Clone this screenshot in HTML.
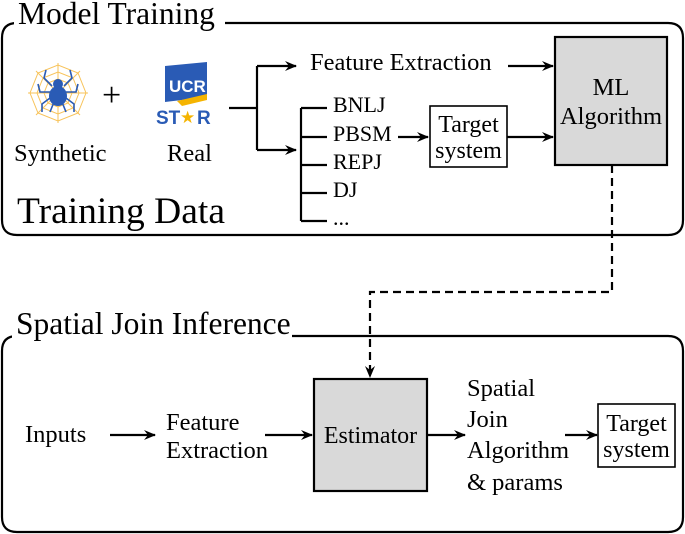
<!DOCTYPE html>
<html><head><meta charset="utf-8"><style>
html,body{margin:0;padding:0;background:#fff;}
svg{display:block;}
.s{font-family:"Liberation Serif",serif;fill:#000;}
.b{font-family:"Liberation Sans",sans-serif;font-weight:bold;}
</style></head><body>
<svg width="685" height="534" viewBox="0 0 685 534" xmlns="http://www.w3.org/2000/svg">
<defs>
<marker id="a" viewBox="0 0 12 10" refX="11" refY="5" markerWidth="12" markerHeight="10" markerUnits="userSpaceOnUse" orient="auto">
<path d="M0,0 L12,5 L0,10 L4,5 Z" fill="#000"/>
</marker>
</defs>
<path d="M225,23 H668 Q683,23 683,38 V220 Q683,235 668,235 H17 Q2,235 2,220 V38 Q2,23 17,23" fill="none" stroke="#000" stroke-width="2.2"/>
<rect x="14" y="4" width="208" height="28" fill="#fff"/>
<text class="s" x="18" y="24" font-size="31.5">Model Training</text>
<text class="s" x="17" y="223" font-size="37.5">Training Data</text>
<text class="s" x="14" y="161" font-size="24.5">Synthetic</text>
<text class="s" x="167" y="161" font-size="24.5">Real</text>
<text class="s" x="102" y="106" font-size="34">+</text>
<g stroke="#f7c35a" stroke-width="1" fill="none">
<polygon points="86,93 78,113 58,121 38,113 30,93 38,73 58,65 78,73"/>
<polygon points="79,93 73,108 58,114 43,108 37,93 43,78 58,72 73,78"/>
<polygon points="72,93 68,103 58,107 48,103 44,93 48,83 58,79 68,83"/>
<path d="M58,93 L88,93 M58,93 L28,93 M58,93 L58,63 M58,93 L58,123 M58,93 L80,71 M58,93 L36,71 M58,93 L80,115 M58,93 L36,115"/>
</g>
<g stroke="#2a5bb5" stroke-width="1.6" fill="none">
<path d="M52,86 L44,78 L46,70 M64,86 L72,78 L70,70 M50,92 L40,92 L38,84 M66,92 L76,92 L78,84 M50,98 L42,104 L42,112 M66,98 L74,104 L74,112 M54,102 L50,112 M62,102 L66,112"/>
</g>
<ellipse cx="58" cy="96" rx="9" ry="10" fill="#2a5bb5"/>
<circle cx="58" cy="84" r="5" fill="#2a5bb5"/>
<polygon points="165,66 207,62 207,97 165,102" fill="#2a5bb5"/>
<polygon points="177,101 207,94 207,100 182,106" fill="#f5b400"/>
<text class="b" x="169" y="92" font-size="17" fill="#fff">UCR</text>
<text class="b" x="156" y="124" font-size="19" fill="#2a5bb5">ST</text>
<text x="180" y="123" font-family="DejaVu Sans" font-size="17" fill="#f5b400">★</text>
<text class="b" x="197" y="124" font-size="19" fill="#2a5bb5">R</text>
<g stroke="#000" stroke-width="2.2" fill="none">
<path d="M229,108 H257 M257,66 V150"/>
<path d="M257,66 H296" marker-end="url(#a)"/>
<path d="M257,150 H296" marker-end="url(#a)"/>
<path d="M301,108 V221 M301,108 H327 M301,137 H327 M301,165 H327 M301,193 H327 M301,221 H327"/>
<path d="M508,66 H553" marker-end="url(#a)"/>
<path d="M398,137 H428" marker-end="url(#a)"/>
<path d="M507,137 H553" marker-end="url(#a)"/>
</g>
<text class="s" x="310" y="70" font-size="24.5">Feature Extraction</text>
<g class="s" font-size="22">
<text x="333" y="112">BNLJ</text>
<text x="333" y="141">PBSM</text>
<text x="333" y="169">REPJ</text>
<text x="333" y="197">DJ</text>
<text x="333" y="225">...</text>
</g>
<rect x="430" y="106" width="77" height="61" fill="#fff" stroke="#000" stroke-width="1.6"/>
<text class="s" x="468.5" y="132" font-size="24" text-anchor="middle">Target</text>
<text class="s" x="468.5" y="158" font-size="24" text-anchor="middle">system</text>
<rect x="555" y="37" width="112" height="128" fill="#d9d9d9" stroke="#000" stroke-width="2.2"/>
<text class="s" x="611" y="95" font-size="24.5" text-anchor="middle">ML</text>
<text class="s" x="611" y="124" font-size="24.5" text-anchor="middle">Algorithm</text>
<path d="M612,165 V292 H370 V377" fill="none" stroke="#000" stroke-width="2.2" stroke-dasharray="8,5" marker-end="url(#a)"/>
<path d="M292,336 H668 Q683,336 683,351 V517 Q683,532 668,532 H17 Q2,532 2,517 V351 Q2,336 17,336" fill="none" stroke="#000" stroke-width="2.2"/>
<rect x="12" y="308" width="278" height="32" fill="#fff"/>
<text class="s" x="16" y="334" font-size="31.5">Spatial Join Inference</text>
<g stroke="#000" stroke-width="2.2" fill="none">
<path d="M110,435 H155" marker-end="url(#a)"/>
<path d="M265,435 H312" marker-end="url(#a)"/>
<path d="M428,435 H465" marker-end="url(#a)"/>
<path d="M565,435 H597" marker-end="url(#a)"/>
</g>
<text class="s" x="25" y="442" font-size="24.5">Inputs</text>
<text class="s" x="166" y="430" font-size="24.5">Feature</text>
<text class="s" x="166" y="458" font-size="24.5">Extraction</text>
<rect x="314" y="379" width="113" height="112" fill="#d9d9d9" stroke="#000" stroke-width="2.2"/>
<text class="s" x="370.5" y="443" font-size="24" text-anchor="middle">Estimator</text>
<g class="s" font-size="24.5">
<text x="467" y="396">Spatial</text>
<text x="467" y="427">Join</text>
<text x="467" y="458">Algorithm</text>
<text x="467" y="490">&amp; params</text>
</g>
<rect x="598" y="404" width="77" height="63" fill="#fff" stroke="#000" stroke-width="1.6"/>
<text class="s" x="636.5" y="431" font-size="24" text-anchor="middle">Target</text>
<text class="s" x="636.5" y="457" font-size="24" text-anchor="middle">system</text>
</svg>
</body></html>
